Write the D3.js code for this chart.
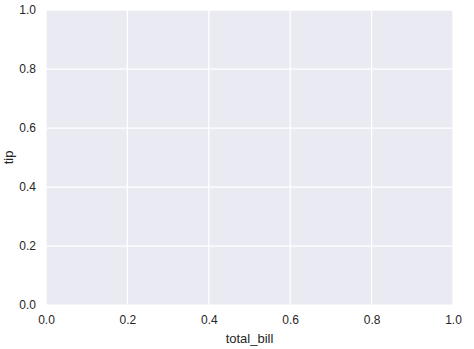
<!DOCTYPE html>
<html>
<head>
<meta charset="utf-8">
<script src="https://cdn.jsdelivr.net/npm/d3@7"></script>
<style>
	body { margin: 0; background: #fff; }
	text { font-family: "Liberation Sans", Arial, sans-serif; fill: #262626; }
</style>
</head>
<body>
<script>
var xTicks = [0.0, 0.2, 0.4, 0.6, 0.8, 1.0];
var yTicks = [0.0, 0.2, 0.4, 0.6, 0.8, 1.0];
var xLabel = 'total_bill';
var yLabel = 'tip';

var width = 474;
var height = 349;
var margin = { top: 10, right: 21, bottom: 44, left: 46 };
var w = width - margin.left - margin.right;
var h = height - margin.top - margin.bottom;

var svg = d3.select('body').append('svg')
	.attr('width', width)
	.attr('height', height);

var g = svg.append('g').attr('transform', `translate(${margin.left},${margin.top})`);

var x = d3.scaleLinear().domain([0, 1]).range([0, w]);
var y = d3.scaleLinear().domain([0, 1]).range([h, 0]);

g.append('rect')
	.attr('width', w)
	.attr('height', h)
	.attr('fill', '#eaeaf2');

g.selectAll('.xgrid')
	.data(xTicks)
	.enter()
	.append('line')
	.attr('x1', d => x(d)).attr('x2', d => x(d))
	.attr('y1', 0).attr('y2', h)
	.attr('stroke', '#fff')
	.attr('stroke-width', 1.25);

g.selectAll('.ygrid')
	.data(yTicks)
	.enter()
	.append('line')
	.attr('y1', d => y(d)).attr('y2', d => y(d))
	.attr('x1', 0).attr('x2', w)
	.attr('stroke', '#fff')
	.attr('stroke-width', 1.25);

var xAxis = g.append('g')
	.attr('transform', `translate(0,${h})`)
	.call(d3.axisBottom(x).tickValues(xTicks).tickFormat(d3.format('.1f')).tickSize(0).tickPadding(10));
var yAxis = g.append('g')
	.call(d3.axisLeft(y).tickValues(yTicks).tickFormat(d3.format('.1f')).tickSize(0).tickPadding(10));

[xAxis, yAxis].forEach(function(a) {
	a.select('.domain').remove();
	a.selectAll('text')
		.attr('font-size', 12)
		.attr('font-family', '"Liberation Sans", Arial, sans-serif')
		.attr('fill', '#262626');
});

svg.append('text')
	.attr('x', margin.left + w / 2)
	.attr('y', height - 6)
	.attr('text-anchor', 'middle')
	.attr('font-size', 13)
	.text(xLabel);

svg.append('text')
	.attr('transform', `translate(13,${margin.top + h / 2}) rotate(-90)`)
	.attr('text-anchor', 'middle')
	.attr('font-size', 13)
	.text(yLabel);
</script>
</body>
</html>
